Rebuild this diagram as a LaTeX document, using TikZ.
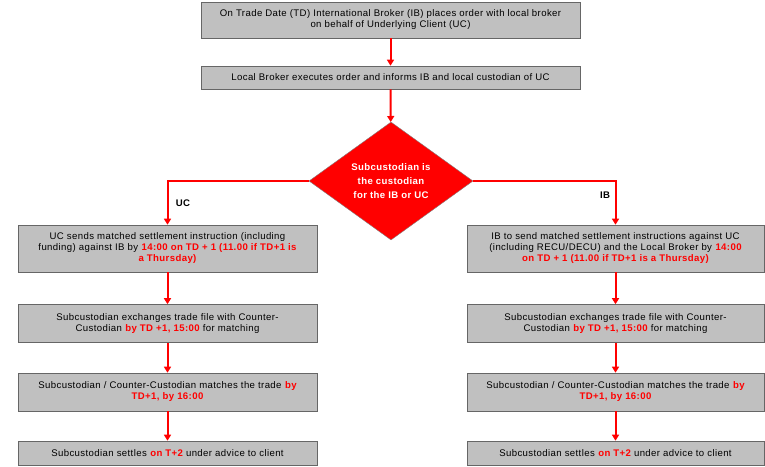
\documentclass[tikz,border=0pt]{standalone}
\usepackage{fontspec}
\setmainfont{Liberation Sans}[LetterSpace=4]
\usetikzlibrary{shapes.geometric,arrows.meta}
\definecolor{bx}{HTML}{C0C0C0}
\definecolor{rd}{HTML}{FF0000}
\newcommand{\rb}[1]{\textbf{\textcolor{rd}{#1}}}
\begin{document}
\begin{tikzpicture}[x=1pt,y=-1pt,
 box/.style={draw=black!60,fill=bx,line width=0.6pt,align=center,font=\fontsize{9.6}{11}\selectfont,inner sep=1pt},
 arr/.style={draw=rd,line width=2pt,-{Triangle[length=6pt,width=7pt]}},
 ln/.style={draw=rd,line width=2pt}]
\useasboundingbox (0,0) rectangle (765,466);
\node[box,minimum width=379pt,minimum height=36pt] (t) at (390.5,20) {On Trade Date (TD) International Broker (IB) places order with local broker\\on behalf of Underlying Client (UC)};
\node[box,minimum width=379pt,minimum height=23pt] (b2) at (390.5,77.5) {Local Broker executes order and informs IB and local custodian of UC};
\node[diamond,draw=black!50,fill=rd,minimum width=164pt,minimum height=118pt,inner sep=0pt,align=center,text=white,font=\bfseries\fontsize{9.6}{14}\selectfont] (d) at (391,181) {Subcustodian is\\the custodian\\for the IB or UC};
\foreach \s/\x/\w in {L/167.5/299,R/615.5/297}{
 \node[box,minimum width=\w pt,minimum height=38pt] (\s2) at (\x,323.5) {Subcustodian exchanges trade file with Counter-\\Custodian \rb{by TD +1, 15:00} for matching};
 \node[box,minimum width=\w pt,minimum height=38pt] (\s3) at (\x,392) {Subcustodian / Counter-Custodian matches the trade \rb{by}\\\rb{TD+1, by 16:00}};
 \node[box,minimum width=\w pt,minimum height=24pt] (\s4) at (\x,453) {Subcustodian settles \rb{on T+2} under advice to client};
}
\node[box,minimum width=299pt,minimum height=47pt] (L1) at (167.5,248.5) {UC sends matched settlement instruction (including\\funding) against IB by \rb{14:00 on TD + 1 (11.00 if TD+1 is}\\\rb{a Thursday)}};
\node[box,minimum width=297pt,minimum height=47pt] (R1) at (615.5,248.5) {IB to send matched settlement instructions against UC\\(including RECU/DECU) and the Local Broker by \rb{14:00}\\\rb{on TD + 1 (11.00 if TD+1 is a Thursday)}};
\draw[arr] (t) -- (b2);
\draw[arr] (b2) -- (d);
\draw[arr] (d.west) -| (L1.north);
\draw[arr] (d.east) -| (R1.north);
\foreach \s in {L,R}{
 \draw[arr] (\s1) -- (\s2);
 \draw[arr] (\s2) -- (\s3);
 \draw[arr] (\s3) -- (\s4);
}
\node[font=\bfseries\fontsize{9.6}{11}\selectfont] (uc) at (183,203) {UC};
\node[font=\bfseries\fontsize{9.6}{11}\selectfont] (ib) at (605,195) {IB};
\end{tikzpicture}
\end{document}
